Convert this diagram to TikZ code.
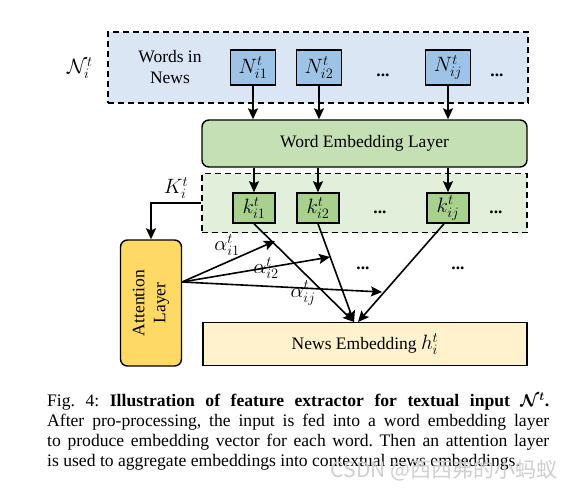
\documentclass[tikz,border=0pt]{standalone}
\usepackage{amsmath}
\usepackage{fontspec}
\setmainfont{Liberation Serif}
\newfontfamily\cjk{Noto Sans CJK SC}
\usetikzlibrary{arrows.meta,calc}
\definecolor{blueback}{HTML}{DAE6F3}
\definecolor{bluebox}{HTML}{9DC3E6}
\definecolor{greenlayer}{HTML}{C5E0B4}
\definecolor{greenback}{HTML}{E2EFDA}
\definecolor{greenbox}{HTML}{A9D18E}
\definecolor{attcol}{HTML}{FFD966}
\definecolor{newscol}{HTML}{FFF2CC}
\newcommand{\mbig}{\fontsize{20.5}{24}\selectfont}
\begin{document}
\begin{tikzpicture}[x=1pt,y=-1pt,
  every node/.style={inner sep=0pt, font=\fontsize{17.5}{21}\selectfont},
  mathlab/.style={font=\mbig},
  dbox/.style={draw, dashed, line width=1.4pt, dash pattern=on 6pt off 4pt},
  wbox/.style={draw, line width=1.8pt, fill=bluebox, minimum width=45pt, minimum height=35pt, font=\mbig},
  kbox/.style={draw, line width=1.6pt, fill=greenbox, minimum width=42pt, minimum height=30pt, font=\mbig},
  layer/.style={draw, line width=1.4pt, rounded corners=7pt},
  arr/.style={-{Stealth[length=11pt,width=10pt,inset=2pt]}, line width=1.6pt},
  dots/.style={font=\fontsize{17.5}{21}\selectfont\bfseries}
]
\useasboundingbox (0,0) rectangle (564,491);
\fill[white] (0,0) rectangle (564,491);

% top dashed box
\node[dbox, fill=blueback, minimum width=420pt, minimum height=71pt] (top) at (318,67.5) {};
\node[mathlab] (nlab) at (80,68) {$\mathcal{N}_i^t$};
\node[align=center] (words) at (170,67) {Words in\\News};
\node[wbox] (n1) at (253,67.5) {$N_{i1}^t$};
\node[wbox] (n2) at (319,67.5) {$N_{i2}^t$};
\node[wbox] (n3) at (448,67.5) {$N_{ij}^t$};
\node[dots] (d1) at (383,75) {...};
\node[dots] (d2) at (497,75) {...};

% word embedding layer
\node[layer, fill=greenlayer, minimum width=325pt, minimum height=47pt] (wel) at (364.5,143.5) {Word Embedding Layer};

% green dashed box
\node[dbox, fill=greenback, minimum width=325pt, minimum height=59pt] (gb) at (364.5,203) {};
\node[kbox] (k1) at (254,208) {$k_{i1}^t$};
\node[kbox] (k2) at (318,208) {$k_{i2}^t$};
\node[kbox] (k3) at (448,208) {$k_{ij}^t$};
\node[dots] (d3) at (380,212) {...};
\node[dots] (d4) at (496,212) {...};
\node[mathlab] (klab) at (176,188) {$K_i^t$};

% attention layer
\node[layer, fill=attcol, minimum width=61pt, minimum height=126pt] (att) at (151,303) {};
\node[rotate=90, align=center] (atttext) at (151,303) {Attention\\Layer};

% news embedding
\node[draw, line width=1.4pt, fill=newscol, minimum width=324pt, minimum height=43pt] (ne) at (365,344) {News Embedding {\mbig$h_i^t$}};

% arrows N -> WEL
\foreach \n in {n1,n2,n3} {
  \draw[arr] (\n.south) -- (\n.south |- wel.north);
}
% arrows WEL -> k
\foreach \n in {k1,k2,k3} {
  \draw[arr] (\n.north |- wel.south) -- (\n.north);
}
% K -> attention
\draw[arr] (gb.west) -| (att.north);

% alpha arrows
\coordinate (ao) at (182,282);
\coordinate (a1) at (275,241);
\coordinate (a2) at (330,257);
\coordinate (a3) at (382,292);
\draw[arr] (ao) -- (a1);
\draw[arr] (ao) -- (a2);
\draw[arr] (ao) -- (a3);
\node[mathlab] (al1) at (227,245) {$\alpha_{i1}^t$};
\node[mathlab] (al2) at (266,268) {$\alpha_{i2}^t$};
\node[mathlab] (al3) at (303,293) {$\alpha_{ij}^t$};

% k -> news embedding
\coordinate (t1) at (354,322);
\coordinate (t2) at (358,322);
\draw[arr] (k1.south) -- (t1);
\draw[arr] (k2.south) -- (t1);
\draw[arr] ([xshift=-4pt]k3.south) -- (t2);
\node[dots] (d5) at (363,268) {...};
\node[dots] (d6) at (458,268) {...};

% caption
\node[anchor=north west, text width=502pt, align=justify, font=\fontsize{17.6}{20}\selectfont\frenchspacing] (cap) at (47,392.5)
{Fig. 4: \textbf{Illustration of feature extractor for textual input \boldmath$\mathcal{N}^t$.}\linebreak
After pro-processing, the input is fed into a word embedding layer\linebreak
to produce embedding vector for each word. Then an attention layer\linebreak
is used to aggregate embeddings into contextual news embeddings.};

% watermark
\node[text=gray!38, font=\fontsize{21}{24}\selectfont\cjk] (wm) at (444,470) {CSDN @西西弗的小蚂蚁};
\end{tikzpicture}
\end{document}
